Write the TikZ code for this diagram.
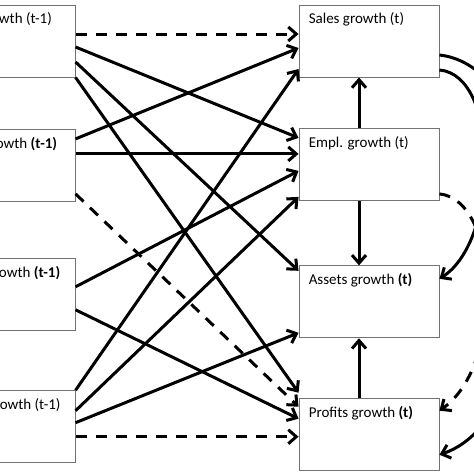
\documentclass[tikz,border=0pt]{standalone}
\usepackage{fontspec}
\setmainfont{Carlito}
\usetikzlibrary{positioning}
\usetikzlibrary{arrows.meta}
\newcommand{\labxshift}{10pt}
\newcommand{\labyshift}{-8pt}
\tikzstyle{box} = [draw=black!55, line width=0.9pt, minimum width=140pt, minimum height=72pt, inner sep=0pt]
\tikzstyle{boxtext} = [font=\fontsize{15}{17}\selectfont, anchor=north west, inner sep=0pt, xshift=\labxshift, yshift=\labyshift]
\tikzstyle{link} = [line width=3pt, -{Straight Barb[length=8pt,width=14pt]}]
\tikzstyle{dlink} = [link, dash pattern=on 11pt off 9pt]

\begin{document}
\begin{tikzpicture}[x=1pt, y=-1pt]

		\useasboundingbox (0,0) rectangle (474,474);
		\clip (0,0) rectangle (474,474);

		% outcome boxes (t)
		\node (sales) [box] at (369,41) {};
		\node (empl) [box, below=51pt of sales] {};
		\node (assets) [box, below=64pt of empl] {};
		\node (profits) [box, below=60pt of assets] {};

		% lagged boxes (t-1)
		\node (sales_lag) [box, left=223pt of sales] {};
		\node (empl_lag) [box, below=52pt of sales_lag] {};
		\node (assets_lag) [box, below=56pt of empl_lag] {};
		\node (profits_lag) [box, below=59pt of assets_lag] {};

		\node (sales_lab) [boxtext] at (sales.north west) {Sales growth (t)};
		\node (empl_lab) [boxtext] at (empl.north west) {Empl. growth (t)};
		\node (assets_lab) [boxtext] at (assets.north west) {Assets growth \textbf{(t)}};
		\node (profits_lab) [boxtext] at (profits.north west) {Profits growth \textbf{(t)}};
		\node (sales_lag_lab) [boxtext] at (sales_lag.north west) {Sales growth (t-1)};
		\node (empl_lag_lab) [boxtext] at (empl_lag.north west) {Empl. growth \textbf{(t-1)}};
		\node (assets_lag_lab) [boxtext] at (assets_lag.north west) {Assets growth \textbf{(t-1)}};
		\node (profits_lag_lab) [boxtext] at (profits_lag.north west) {Profits growth (t-1)};

		% from sales (t-1)
		\draw [dlink] ([yshift=7pt]sales_lag.east) -- ([yshift=7pt]sales.west);
		\draw [link] ([yshift=-6pt]sales_lag.east) -- ([yshift=27pt]empl.west);
		\draw [link] ([yshift=-21pt]sales_lag.east) -- ([yshift=31pt]assets.west);
		\draw [link] (sales_lag.south east) -- ([yshift=42pt]profits.west);

		% from empl (t-1)
		\draw [link] ([yshift=27pt]empl_lag.east) -- ([yshift=-7pt]sales.west);
		\draw [link] ([yshift=12pt]empl_lag.east) -- ([yshift=11pt]empl.west);
		\draw [dlink] ([yshift=-28pt]empl_lag.east) -- ([yshift=28pt]profits.west);

		% from assets (t-1)
		\draw [link] ([yshift=8pt]assets_lag.east) -- ([yshift=-6pt]empl.west);
		\draw [link] ([yshift=-15pt]assets_lag.east) -- ([yshift=16pt]profits.west);

		% from profits (t-1)
		\draw [link] (profits_lag.north east) -- ([yshift=-28pt]sales.west);
		\draw [link] ([yshift=16pt]profits_lag.east) -- ([yshift=-32pt]empl.west);
		\draw [link] ([yshift=4pt]profits_lag.east) -- ([yshift=-31pt]assets.west);
		\draw [dlink] ([yshift=-10pt]profits_lag.east) -- ([yshift=-2pt]profits.west);

		% within period
		\draw [link] ([xshift=-10pt]empl.north) -- ([xshift=-10pt]sales.south);
		\draw [link] ([xshift=-10pt]empl.south) -- ([xshift=-10pt]assets.north);
		\draw [link] ([xshift=-10pt]profits.north) -- ([xshift=-10pt]assets.south);

		\draw [link] ([yshift=-14pt]sales.east) .. controls (569,70) and (560,415) .. ([yshift=-20pt]profits.east);
		\draw [link] ([yshift=-29pt]sales.east) .. controls (500,75) and (500,240) .. ([yshift=23pt]assets.east);
		\draw [dlink] ([yshift=-29pt]empl.east) .. controls (500,200) and (505,365) .. ([yshift=24pt]profits.east);

	\end{tikzpicture}
\end{document}
